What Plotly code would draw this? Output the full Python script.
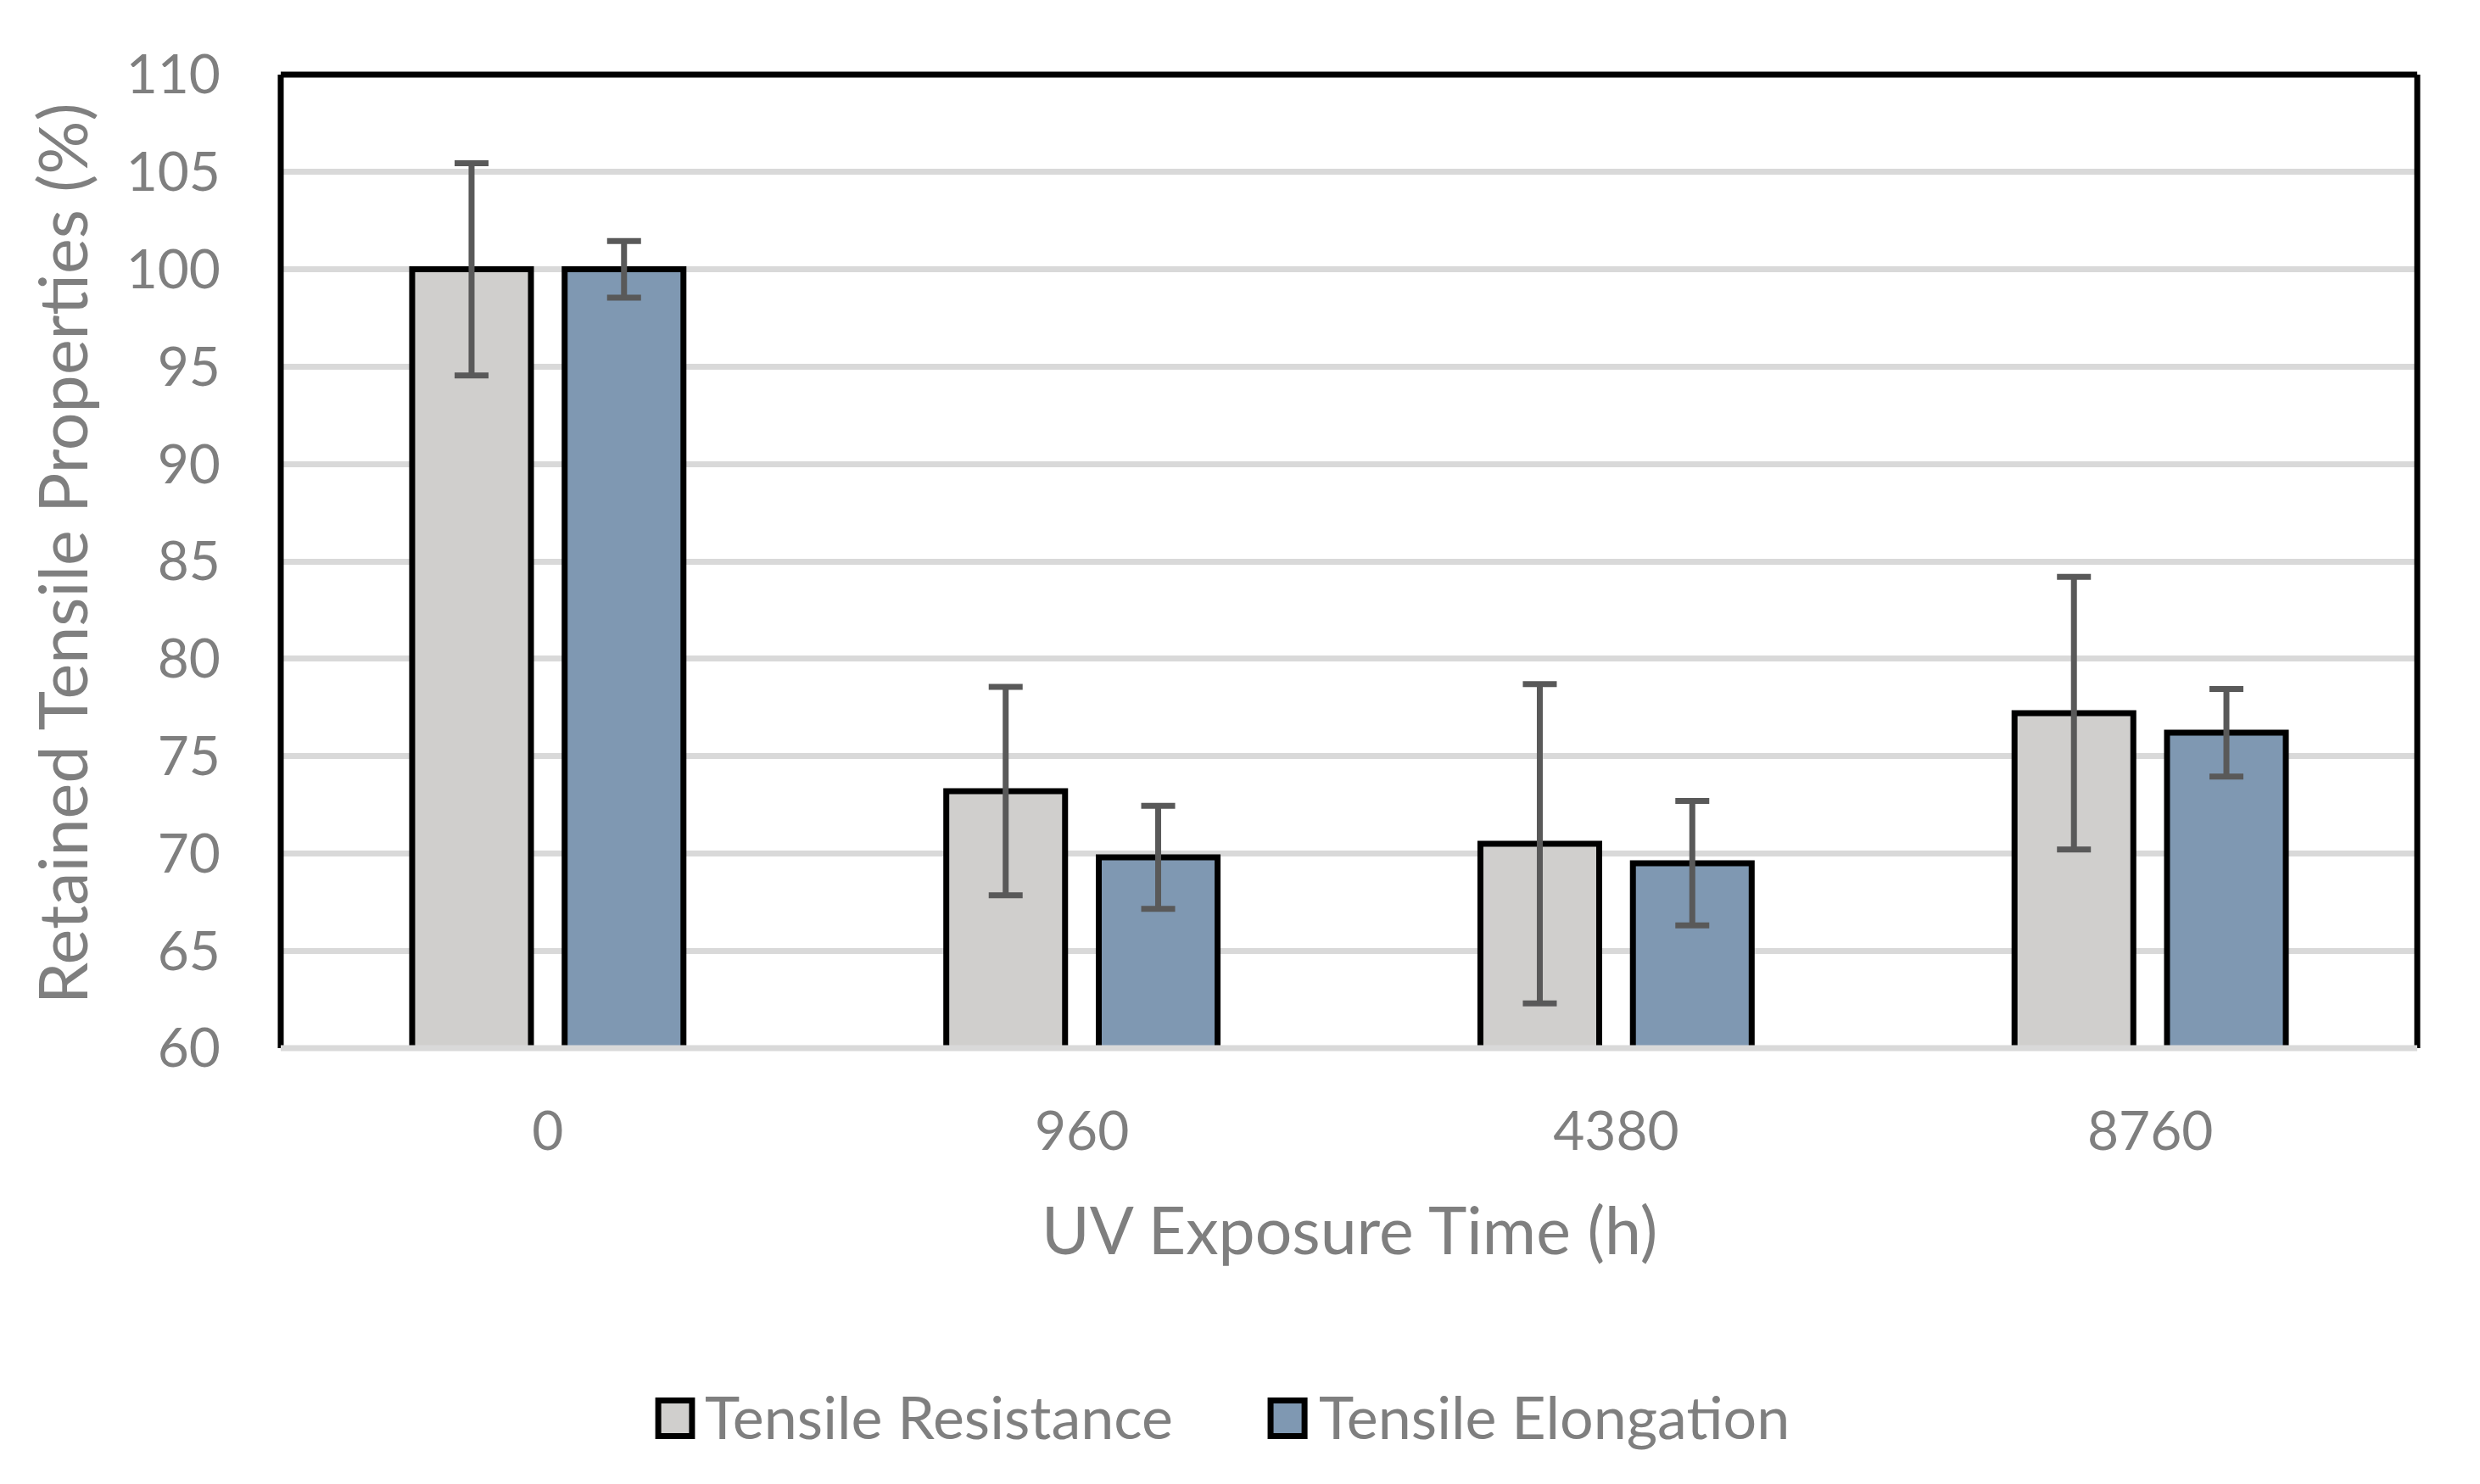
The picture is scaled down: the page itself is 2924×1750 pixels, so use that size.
import plotly.graph_objects as go

exposure_times = ["0", "960", "4380", "8760"]
series_names = ["Tensile Resistance", "Tensile Elongation"]
resistance = [100, 73.2, 70.5, 77.2]
resistance_err = [5.45, 5.35, 8.2, 7.0]
elongation = [100, 69.8, 69.5, 76.2]
elongation_err = [1.45, 2.65, 3.2, 2.25]
y_ticks = [60, 65, 70, 75, 80, 85, 90, 95, 100, 105, 110]

colors = ["#d0cfcd", "#7f98b2"]
text_color = "#7f7f7f"
font_name = "Lato"

fig = go.Figure()

for name, values, errors, color in zip(series_names,
                                       [resistance, elongation],
                                       [resistance_err, elongation_err],
                                       colors):
    fig.add_trace(
        go.Bar(
            x=exposure_times,
            y=values,
            name=name,
            marker=dict(color=color, line=dict(color="black", width=7)),
            error_y=dict(type="data", array=errors, visible=True,
                         color="#595959", thickness=7, width=20),
            showlegend=False
        )
    )

# plot frame: black on top / left / right, grey base line
frame = [
    dict(x0=0, x1=0, y0=0, y1=1, color="black"),
    dict(x0=1, x1=1, y0=0, y1=1, color="black"),
    dict(x0=0, x1=1, y0=1, y1=1, color="black"),
    dict(x0=0, x1=1, y0=0, y1=0, color="#d9d9d9"),
]
for f in frame:
    fig.add_shape(type="line", xref="paper", yref="paper",
                  x0=f["x0"], x1=f["x1"], y0=f["y0"], y1=f["y1"],
                  line=dict(color=f["color"], width=7), layer="above")

# legend drawn by hand so the swatches keep their size
legend_boxes = [(0.1767, 0.1925, 0.1977), (0.4633, 0.4792, 0.4851)]
for (bx0, bx1, tx), name, color in zip(legend_boxes, series_names, colors):
    fig.add_shape(type="rect", xref="paper", yref="paper",
                  x0=bx0, x1=bx1, y0=-0.3985, y1=-0.3619,
                  fillcolor=color, line=dict(color="black", width=7))
    fig.add_annotation(x=tx, y=-0.378, xref="paper", yref="paper",
                       text=name, showarrow=False, xanchor="left", yanchor="middle",
                       font=dict(family=font_name, size=70, color=text_color))

fig.add_annotation(x=0.5, y=-0.1855, xref="paper", yref="paper",
                   text="UV Exposure Time (h)", showarrow=False,
                   xanchor="center", yanchor="middle",
                   font=dict(family=font_name, size=77, color=text_color))
fig.add_annotation(x=-0.1026, y=0.508, xref="paper", yref="paper",
                   text="Retained Tensile Properties (%)", showarrow=False,
                   textangle=-90, xanchor="center", yanchor="middle",
                   font=dict(family=font_name, size=79, color=text_color))

fig.update_layout(
    width=2924,
    height=1750,
    template="plotly_white",
    paper_bgcolor="white",
    plot_bgcolor="white",
    barmode="group",
    bargap=0.429,
    bargroupgap=0.221,
    margin=dict(l=323, r=82, t=80, b=522),
    font=dict(family=font_name, size=64, color=text_color),
)

fig.update_xaxes(
    type="category",
    showgrid=False,
    showline=False,
    zeroline=False,
    ticks="",
    ticklabelstandoff=55,
    tickfont=dict(family=font_name, size=64, color=text_color),
)

fig.update_yaxes(
    range=[60, 110],
    tickvals=y_ticks,
    showgrid=True,
    gridcolor="#d9d9d9",
    gridwidth=7,
    showline=False,
    zeroline=False,
    ticks="",
    ticklabelstandoff=70,
    tickfont=dict(family=font_name, size=64, color=text_color),
)

fig.write_html("out.html")
